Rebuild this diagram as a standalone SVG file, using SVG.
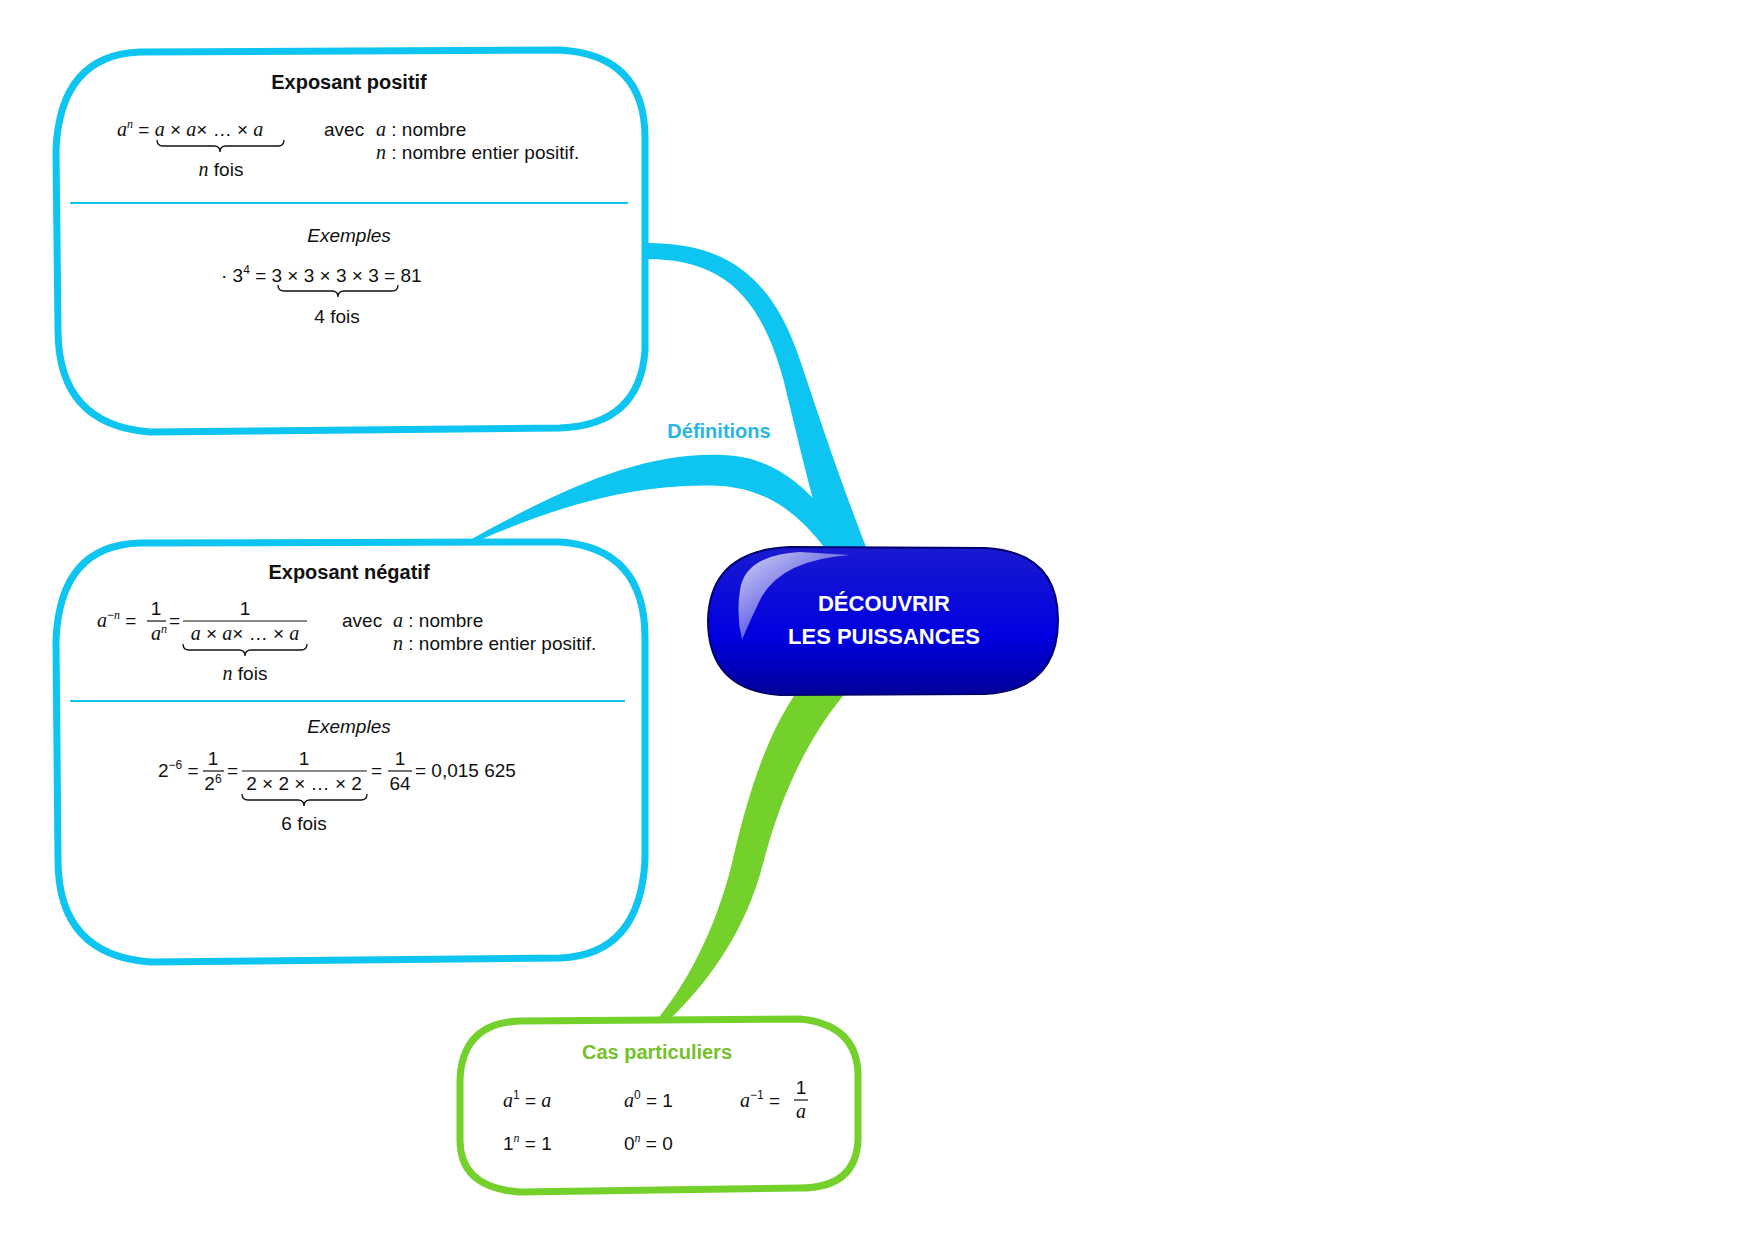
<svg xmlns="http://www.w3.org/2000/svg" width="1754" height="1241" viewBox="0 0 1754 1241">
<style>
.t{font-family:"Liberation Sans Narrow","Liberation Sans",sans-serif;font-size:19px;fill:#111}
.b{font-weight:bold;font-size:20px}
.i{font-family:"Liberation Serif",serif;font-style:italic;font-size:20px}
.it{font-style:italic}
.box{fill:#fff;stroke:#0ec5f2;stroke-width:7}
.gbox{fill:#fff;stroke:#74d12b;stroke-width:7}
.div{stroke:#0ec5f2;stroke-width:2}
.br{fill:none;stroke:#111;stroke-width:1.3}
.fb{stroke:#111;stroke-width:1.2}
.sup{font-size:12px}
</style>
<defs>
<linearGradient id="ng" x1="0" y1="0" x2="0" y2="1">
<stop offset="0" stop-color="#1a1ad0"/><stop offset="0.6" stop-color="#0000e0"/><stop offset="1" stop-color="#00009a"/>
</linearGradient>
<linearGradient id="hl" x1="0" y1="0" x2="1" y2="1">
<stop offset="0" stop-color="#fff" stop-opacity="0.8"/><stop offset="1" stop-color="#fff" stop-opacity="0"/>
</linearGradient>
</defs>
<g id="connectors">
<path d="M646,243 C720,243 770,270 800,360 C820,420 840,480 868,552 L828,552 C812,500 798,440 784,382 C760,292 720,259 646,259 Z" fill="#0ec5f2"/>
<path d="M480,540 C560,505 640,482 722,486 C770,490 800,515 828,552 L852,552 C822,500 782,456 722,455 C640,452 560,490 470,540 Z" fill="#0ec5f2"/>
<path d="M798,690 L848,690 C805,740 780,800 764,860 C744,940 700,990 668,1021 L656,1021 C690,980 720,920 735,850 C752,780 770,730 798,690 Z" fill="#74d12b"/>
<text x="719" y="438" class="t b" fill="#29b6e0" style="fill:#29b6e0" text-anchor="middle">Définitions</text>
</g>
<g id="positif">
<path class="box" d="M140,52 L560,50 Q646,55 645,140 L645,350 Q640,425 560,428 L150,432 Q58,425 58,330 L56,150 Q60,55 140,52 Z"/>
<text x="349" y="89" class="t b" text-anchor="middle">Exposant positif</text>
<text x="117" y="136" class="t"><tspan class="i">a</tspan><tspan class="i sup" dy="-8">n</tspan><tspan dy="8"> = </tspan><tspan class="i">a</tspan> × <tspan class="i">a</tspan>× … × <tspan class="i">a</tspan></text>
<path class="br" d="M157,140 q0,6 6,6 L214,146 q6,0 6,6 q0,-6 6,-6 L278,146 q6,0 6,-6"/>
<text x="221" y="176" class="t" text-anchor="middle"><tspan class="i">n</tspan> fois</text>
<text x="324" y="136" class="t">avec</text>
<text x="376" y="136" class="t"><tspan class="i">a</tspan> : nombre</text>
<text x="376" y="159" class="t"><tspan class="i">n</tspan> : nombre entier positif.</text>
<line class="div" x1="70" y1="203" x2="628" y2="203"/>
<text x="349" y="242" class="t it" text-anchor="middle">Exemples</text>
<text x="221" y="282" class="t">·  3<tspan class="sup" dy="-8">4</tspan><tspan dy="8"> = 3 × 3 × 3 × 3 = 81</tspan></text>
<path class="br" d="M278,285 q0,6 6,6 L332,291 q6,0 6,6 q0,-6 6,-6 L392,291 q6,0 6,-6"/>
<text x="337" y="323" class="t" text-anchor="middle">4 fois</text>
</g>
<g id="negatif">
<path class="box" d="M140,543 L560,542 Q646,548 645,640 L645,860 Q640,955 560,958 L150,962 Q58,955 58,860 L56,640 Q60,545 140,543 Z"/>
<text x="349" y="579" class="t b" text-anchor="middle">Exposant négatif</text>
<text x="97" y="627" class="t"><tspan class="i">a</tspan><tspan class="sup" dy="-8">−</tspan><tspan class="i sup">n</tspan><tspan dy="8"> =</tspan></text>
<text x="156" y="615" class="t" text-anchor="middle">1</text>
<line class="fb" x1="147" y1="621" x2="166" y2="621"/>
<text x="151" y="640" class="t"><tspan class="i">a</tspan><tspan class="i sup" dy="-7">n</tspan></text>
<text x="169" y="627" class="t">=</text>
<text x="245" y="615" class="t" text-anchor="middle">1</text>
<line class="fb" x1="183" y1="621" x2="307" y2="621"/>
<text x="245" y="640" class="t" text-anchor="middle"><tspan class="i">a</tspan> × <tspan class="i">a</tspan>× … × <tspan class="i">a</tspan></text>
<path class="br" d="M183,644 q0,6 6,6 L239,650 q6,0 6,6 q0,-6 6,-6 L301,650 q6,0 6,-6"/>
<text x="245" y="680" class="t" text-anchor="middle"><tspan class="i">n</tspan> fois</text>
<text x="342" y="627" class="t">avec</text>
<text x="393" y="627" class="t"><tspan class="i">a</tspan> : nombre</text>
<text x="393" y="650" class="t"><tspan class="i">n</tspan> : nombre entier positif.</text>
<line class="div" x1="70" y1="701" x2="625" y2="701"/>
<text x="349" y="733" class="t it" text-anchor="middle">Exemples</text>
<text x="158" y="777" class="t">2<tspan class="sup" dy="-8">−6</tspan><tspan dy="8"> =</tspan></text>
<text x="213" y="765" class="t" text-anchor="middle">1</text>
<line class="fb" x1="203" y1="771" x2="224" y2="771"/>
<text x="213" y="790" class="t" text-anchor="middle">2<tspan class="sup" dy="-7">6</tspan></text>
<text x="227" y="777" class="t">=</text>
<text x="304" y="765" class="t" text-anchor="middle">1</text>
<line class="fb" x1="242" y1="771" x2="367" y2="771"/>
<text x="304" y="790" class="t" text-anchor="middle">2 × 2 × … × 2</text>
<path class="br" d="M242,794 q0,6 6,6 L298,800 q6,0 6,6 q0,-6 6,-6 L361,800 q6,0 6,-6"/>
<text x="304" y="830" class="t" text-anchor="middle">6 fois</text>
<text x="371" y="777" class="t">=</text>
<text x="400" y="765" class="t" text-anchor="middle">1</text>
<line class="fb" x1="388" y1="771" x2="412" y2="771"/>
<text x="400" y="790" class="t" text-anchor="middle">64</text>
<text x="415" y="777" class="t">= 0,015 625</text>
</g>
<g id="centre">
<path d="M790,547 L985,548 Q1058,552 1058,620 Q1058,690 985,694 L780,695 Q708,690 708,620 Q710,550 790,547 Z" fill="url(#ng)" stroke="#000070" stroke-width="2"/>
<path d="M740,590 Q745,555 800,552 L850,555 Q780,560 760,600 Q748,625 742,640 Q736,615 740,590 Z" fill="url(#hl)"/>
<text x="884" y="611" class="t b" style="fill:#fff;font-size:22px" text-anchor="middle">DÉCOUVRIR</text>
<text x="884" y="644" class="t b" style="fill:#fff;font-size:22px" text-anchor="middle">LES PUISSANCES</text>
</g>
<g id="cas">
<path class="gbox" d="M520,1021 L800,1019 Q860,1025 858,1080 L858,1140 Q856,1188 800,1188 L520,1192 Q460,1188 460,1140 L460,1080 Q462,1023 520,1021 Z"/>
<text x="657" y="1059" class="t b" style="fill:#74c12b" text-anchor="middle">Cas particuliers</text>
<text x="503" y="1107" class="t"><tspan class="i">a</tspan><tspan class="sup" dy="-8">1</tspan><tspan dy="8"> = </tspan><tspan class="i">a</tspan></text>
<text x="624" y="1107" class="t"><tspan class="i">a</tspan><tspan class="sup" dy="-8">0</tspan><tspan dy="8"> = 1</tspan></text>
<text x="740" y="1107" class="t"><tspan class="i">a</tspan><tspan class="sup" dy="-8">−1</tspan><tspan dy="8"> =</tspan></text>
<text x="801" y="1094" class="t" text-anchor="middle">1</text>
<line class="fb" x1="794" y1="1100" x2="808" y2="1100"/>
<text x="801" y="1118" class="t i" text-anchor="middle">a</text>
<text x="503" y="1150" class="t">1<tspan class="i sup" dy="-8">n</tspan><tspan dy="8"> = 1</tspan></text>
<text x="624" y="1150" class="t">0<tspan class="i sup" dy="-8">n</tspan><tspan dy="8"> = 0</tspan></text>
</g>
</svg>
